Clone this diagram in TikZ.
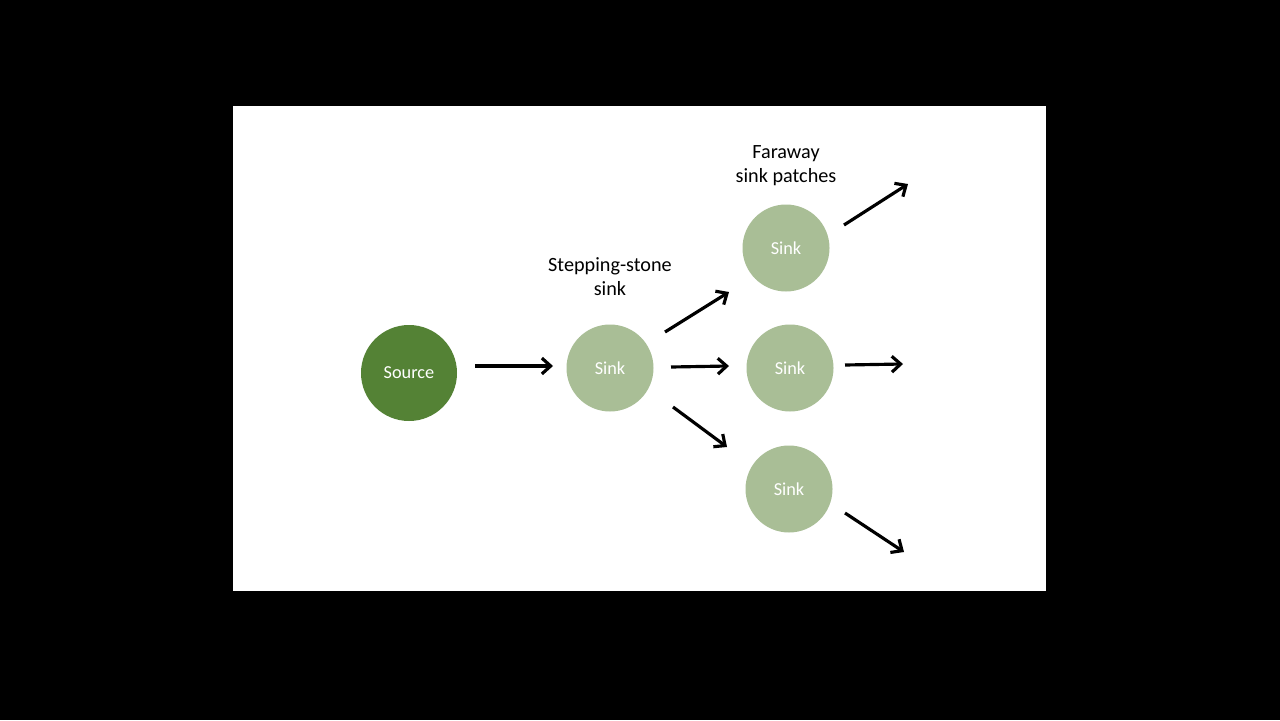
\documentclass[tikz,border=0pt]{standalone}
\usepackage{fontspec}
\setmainfont{Carlito}
\usetikzlibrary{arrows.meta}
\definecolor{srcgreen}{HTML}{548235}
\definecolor{sinkgreen}{HTML}{A9BE96}
\tikzset{
  srcnode/.style={circle, fill=srcgreen, draw=none, minimum size=96*0.02cm, inner sep=0pt, text=white, font=\fontsize{10.4pt}{12pt}\selectfont},
  sinknode/.style={circle, fill=sinkgreen, draw=none, minimum size=87*0.02cm, inner sep=0pt, text=white, font=\fontsize{10.4pt}{12pt}\selectfont},
  lbl/.style={align=center, font=\fontsize{11.5pt}{13.6pt}\selectfont, text=black},
  arr/.style={line width=1.8pt, -{Straight Barb[length=5pt,width=9pt,line width=1.8pt]}}
}
\begin{document}
\begin{tikzpicture}[x=0.02cm, y=-0.02cm]
\useasboundingbox (0,0) rectangle (1280,720);
\fill[black] (0,0) rectangle (1280,720);
\fill[white] (233,106) rectangle (1046,591);
\node[srcnode] (src) at (409,373) {Source};
\node[sinknode] (s0) at (610,368) {Sink};
\node[sinknode] (s1) at (786,248) {Sink};
\node[sinknode] (s2) at (790,368) {Sink};
\node[sinknode] (s3) at (789,489) {Sink};
\node[lbl] (l0) at (610,277) {Stepping-stone\\sink};
\node[lbl] (l1) at (786,166) {Faraway\\sink patches};
\coordinate (a0s) at (475,366); \coordinate (a0e) at (553,366);
\coordinate (a1s) at (665,332); \coordinate (a1e) at (729,292);
\coordinate (a2s) at (671,367); \coordinate (a2e) at (729,366);
\coordinate (a3s) at (673,407); \coordinate (a3e) at (727,447);
\coordinate (b1s) at (844,225); \coordinate (b1e) at (908,184);
\coordinate (b2s) at (845,365); \coordinate (b2e) at (903,364);
\coordinate (b3s) at (845,513); \coordinate (b3e) at (904,552);
\draw[arr] (a0s) -- (a0e);
\draw[arr] (a1s) -- (a1e);
\draw[arr] (a2s) -- (a2e);
\draw[arr] (a3s) -- (a3e);
\draw[arr] (b1s) -- (b1e);
\draw[arr] (b2s) -- (b2e);
\draw[arr] (b3s) -- (b3e);
\end{tikzpicture}
\end{document}
